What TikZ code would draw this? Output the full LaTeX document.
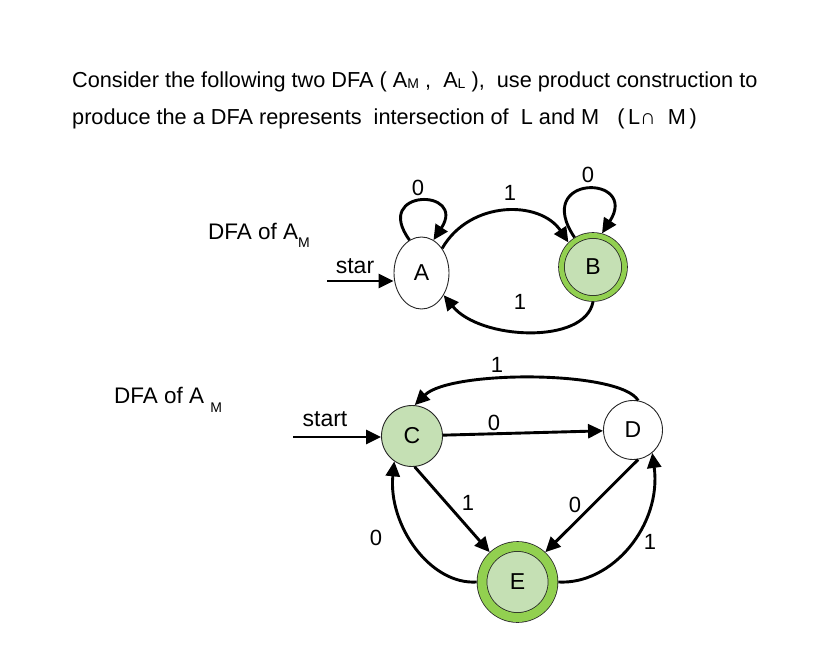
\documentclass[tikz,border=0pt]{standalone}
\usepackage{fontspec}
\setmainfont{Liberation Sans}
\usetikzlibrary{shapes.geometric,arrows.meta}
\definecolor{ringgreen}{RGB}{146,208,80}
\definecolor{fillgreen}{RGB}{197,224,180}
\newcommand{\lowsub}[2]{\raisebox{-#1}{\fontsize{14}{14}\selectfont #2}}
\begin{document}
\begin{tikzpicture}[x=1pt,y=-1pt,
  edge/.style={line width=2.9pt,-{Triangle[length=15pt,width=14pt]}},
  state/.style={draw=black!85,line width=0.9pt,inner sep=0pt,font=\fontsize{23}{26}\selectfont},
  ringed/.style={state,circle,fill=fillgreen,line width=0.8pt,double=ringgreen},
  lbl/.style={font=\fontsize{22}{26}\selectfont,inner sep=0pt},
  txt/.style={anchor=base west,inner sep=0pt}]
\useasboundingbox (0,0) rectangle (830,645);

% title
\node[txt,font=\fontsize{21.7}{26}\selectfont] (t1) at (72,87)
  {Consider the following two DFA ( A\lowsub{1.5pt}{M} ,\ \ A\lowsub{1.5pt}{L} ),\ \ use product construction to};
\node[txt,font=\fontsize{21.7}{26}\selectfont] (t2) at (72,124)
  {produce the a DFA represents\ \ intersection of\ \ L and M\ \ \ (\,L∩\ \ M\,)};

% upper DFA
\node[txt,font=\fontsize{22.5}{26}\selectfont] (dfa1) at (208,239) {DFA of A\lowsub{8pt}{M}};
\node[state,ellipse,minimum width=55pt,minimum height=72pt] (A) at (421.5,273) {A};
\node[ringed,minimum size=63pt,double distance=5pt,outer sep=3.3pt] (B) at (593,267) {B};
\coordinate (sA) at (327,281);
\draw[edge] (sA) -- (sA -| A.west);
\node[font=\fontsize{23}{26}\selectfont,inner sep=0pt] (star) at (355,266) {star};
\draw[edge] (A.110) .. controls +(-38,-52) and +(34,-52) .. (A.70);
\draw[edge] (B.122) .. controls +(-43,-64) and +(38,-59) .. (B.75);
\draw[edge] (A.50) .. controls (470,200) and (540,200) .. (B.135);
\draw[edge] (B.-90) .. controls (585,345) and (480,340) .. (A.-45);
\node[lbl] (la0) at (418,188) {0};
\node[lbl] (lab) at (510,193) {1};
\node[lbl] (lb0) at (588,175) {0};
\node[lbl] (lba) at (520,302) {1};

% lower DFA
\node[txt,font=\fontsize{22.5}{26}\selectfont] (dfa2) at (114,403) {DFA of A\ \lowsub{9pt}{M}};
\node[state,circle,fill=fillgreen,minimum size=61pt] (C) at (412,436) {C};
\node[state,circle,fill=white,minimum size=59pt] (D) at (633,430) {D};
\node[ringed,minimum size=71pt,double distance=9pt,outer sep=5.3pt] (E) at (517.5,582) {E};
\coordinate (sC) at (293,437);
\draw[edge] (sC) -- (sC -| C.west);
\node[font=\fontsize{23}{26}\selectfont,inner sep=0pt] (start) at (325,419) {start};
\draw[edge] (C) -- (D);
\draw[edge] (D.80) .. controls (620,370) and (450,370) .. (C.85);
\draw[edge] (C.-85) -- (E.133);
\draw[edge] (D.-80) -- (E.47);
\draw[edge] (E.180) .. controls (430,585) and (388,525) .. (C.-125);
\draw[edge] (E.0) .. controls (612,585) and (662,525) .. (D.-50);
\node[lbl] (lcd) at (494,423) {0};
\node[lbl] (ldc) at (497,365) {1};
\node[lbl] (lce) at (468,503) {1};
\node[lbl] (lde) at (575,505) {0};
\node[lbl] (lec) at (376,538) {0};
\node[lbl] (led) at (650,542) {1};
\end{tikzpicture}
\end{document}
